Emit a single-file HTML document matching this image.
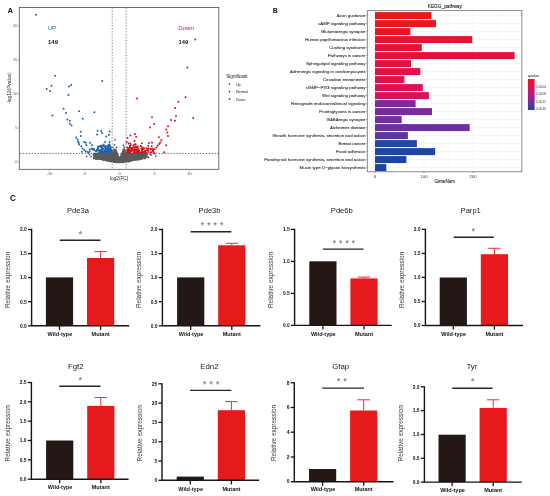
<!DOCTYPE html>
<html lang="en"><head><meta charset="utf-8"><title>Figure</title>
<style>html,body{margin:0;padding:0;background:#fff;}svg{display:block;}text{font-family:"Liberation Sans", Arial, sans-serif;}</style></head><body>
<svg width="550" height="496" viewBox="0 0 550 496">
<rect x="0" y="0" width="550" height="496" fill="#ffffff"/>
<g id="panelA">
<text x="7.6" y="12.8" font-size="7.6" font-weight="bold" fill="#111">A</text>
<rect x="19.3" y="7.5" width="199.5" height="161.8" fill="#fff" stroke="#4d4d4d" stroke-width="0.8"/>
<line x1="19.3" y1="153.4" x2="218.8" y2="153.4" stroke="#3a3a3a" stroke-width="0.8" stroke-dasharray="1.35,1.6" stroke-dashoffset="-0.6"/>
<line x1="112.2" y1="7.5" x2="112.2" y2="169.3" stroke="#555" stroke-width="0.7" stroke-dasharray="1.35,1.6"/>
<line x1="126.1" y1="7.5" x2="126.1" y2="169.3" stroke="#555" stroke-width="0.7" stroke-dasharray="1.35,1.6"/>
<line x1="18" y1="162.0" x2="19.3" y2="162.0" stroke="#555" stroke-width="0.5"/>
<text x="17.3" y="163.4" font-size="3.8" fill="#4d4d4d" text-anchor="end">0</text>
<line x1="18" y1="128.0" x2="19.3" y2="128.0" stroke="#555" stroke-width="0.5"/>
<text x="17.3" y="129.4" font-size="3.8" fill="#4d4d4d" text-anchor="end">5</text>
<line x1="18" y1="94.0" x2="19.3" y2="94.0" stroke="#555" stroke-width="0.5"/>
<text x="17.3" y="95.4" font-size="3.8" fill="#4d4d4d" text-anchor="end">10</text>
<line x1="18" y1="60.0" x2="19.3" y2="60.0" stroke="#555" stroke-width="0.5"/>
<text x="17.3" y="61.4" font-size="3.8" fill="#4d4d4d" text-anchor="end">15</text>
<line x1="18" y1="26.0" x2="19.3" y2="26.0" stroke="#555" stroke-width="0.5"/>
<text x="17.3" y="27.4" font-size="3.8" fill="#4d4d4d" text-anchor="end">20</text>
<line x1="49.6" y1="169.3" x2="49.6" y2="170.6" stroke="#555" stroke-width="0.5"/>
<text x="49.6" y="174.7" font-size="3.8" fill="#4d4d4d" text-anchor="middle">-10</text>
<line x1="84.6" y1="169.3" x2="84.6" y2="170.6" stroke="#555" stroke-width="0.5"/>
<text x="84.6" y="174.7" font-size="3.8" fill="#4d4d4d" text-anchor="middle">-5</text>
<line x1="119.6" y1="169.3" x2="119.6" y2="170.6" stroke="#555" stroke-width="0.5"/>
<text x="119.6" y="174.7" font-size="3.8" fill="#4d4d4d" text-anchor="middle">0</text>
<line x1="154.6" y1="169.3" x2="154.6" y2="170.6" stroke="#555" stroke-width="0.5"/>
<text x="154.6" y="174.7" font-size="3.8" fill="#4d4d4d" text-anchor="middle">5</text>
<line x1="189.6" y1="169.3" x2="189.6" y2="170.6" stroke="#555" stroke-width="0.5"/>
<text x="189.6" y="174.7" font-size="3.8" fill="#4d4d4d" text-anchor="middle">10</text>
<text x="119.2" y="179.6" font-size="4.7" fill="#222" text-anchor="middle">log2(FC)</text>
<text transform="translate(10.6,88.2) rotate(-90)" font-size="4.85" fill="#222" text-anchor="middle">-log10(Pvalue)</text>
<path d="M93.5 153.1 L112.0 153.1 L112.6 150.6 L113.6 149.2 L115.0 148.8 L116.4 149.8 L117.3 152.6 L119.5 157.6 L121.8 152.6 L122.6 149.8 L123.6 148.4 L124.8 148.8 L125.6 150.6 L126.2 153.1 L147.8 153.1 L147.8 154.6 L146.4 156.6 L142.6 158.4 L136.0 160.0 L129.5 161.4 L124.0 162.2 L119.5 162.5 L115.0 162.2 L108.0 161.3 L101.0 159.6 L96.0 158.2 L93.4 156.4 L93.0 154.5 Z" fill="#5a5a5a" stroke="#5a5a5a" stroke-width="0.6" stroke-linejoin="round"/>
<g fill="#5a5a5a">
<circle cx="114.9" cy="139.8" r="0.90"/><circle cx="114.5" cy="144.9" r="0.90"/><circle cx="116.4" cy="147.5" r="0.90"/><circle cx="113.1" cy="147.6" r="0.90"/><circle cx="123.4" cy="145.3" r="0.90"/><circle cx="124.4" cy="147.3" r="0.90"/><circle cx="86.5" cy="156.4" r="0.90"/><circle cx="91.2" cy="156.6" r="0.90"/><circle cx="93.6" cy="158.6" r="0.90"/><circle cx="154.7" cy="153.8" r="0.90"/><circle cx="155.8" cy="156.1" r="0.90"/><circle cx="148.6" cy="157.5" r="0.90"/><circle cx="89.5" cy="154.6" r="0.90"/><circle cx="151.0" cy="155.0" r="0.90"/><circle cx="150.2" cy="153.9" r="0.90"/><circle cx="96.0" cy="159.2" r="0.90"/><circle cx="144.5" cy="158.6" r="0.90"/><circle cx="111.5" cy="161.0" r="0.90"/><circle cx="129.2" cy="160.6" r="0.90"/><circle cx="122.9" cy="161.8" r="0.90"/><circle cx="97.1" cy="158.5" r="0.90"/><circle cx="96.0" cy="158.2" r="0.90"/><circle cx="97.8" cy="158.2" r="0.90"/><circle cx="116.9" cy="162.4" r="0.90"/><circle cx="100.7" cy="159.0" r="0.90"/><circle cx="127.9" cy="161.7" r="0.90"/><circle cx="125.2" cy="161.6" r="0.90"/><circle cx="146.7" cy="157.0" r="0.90"/><circle cx="140.4" cy="158.6" r="0.90"/><circle cx="101.8" cy="159.1" r="0.90"/><circle cx="110.7" cy="161.5" r="0.90"/><circle cx="103.8" cy="160.0" r="0.90"/><circle cx="128.5" cy="161.0" r="0.90"/><circle cx="123.6" cy="161.4" r="0.90"/><circle cx="97.2" cy="158.2" r="0.90"/><circle cx="130.7" cy="160.7" r="0.90"/><circle cx="111.0" cy="161.3" r="0.90"/><circle cx="118.5" cy="162.0" r="0.90"/><circle cx="136.9" cy="159.8" r="0.90"/><circle cx="107.2" cy="160.6" r="0.90"/><circle cx="122.4" cy="162.4" r="0.90"/><circle cx="133.4" cy="160.1" r="0.90"/><circle cx="146.9" cy="157.0" r="0.90"/><circle cx="116.6" cy="162.3" r="0.90"/><circle cx="102.2" cy="159.6" r="0.90"/><circle cx="96.1" cy="158.5" r="0.90"/><circle cx="135.3" cy="160.0" r="0.90"/><circle cx="141.3" cy="158.5" r="0.90"/><circle cx="131.5" cy="160.7" r="0.90"/><circle cx="125.3" cy="161.6" r="0.90"/><circle cx="139.4" cy="159.5" r="0.90"/><circle cx="119.6" cy="162.5" r="0.90"/><circle cx="97.3" cy="158.8" r="0.90"/><circle cx="128.9" cy="161.6" r="0.90"/><circle cx="138.4" cy="159.0" r="0.90"/><circle cx="114.8" cy="162.0" r="0.90"/><circle cx="95.2" cy="158.1" r="0.90"/><circle cx="103.1" cy="159.4" r="0.90"/><circle cx="97.2" cy="158.8" r="0.90"/><circle cx="101.0" cy="159.1" r="0.90"/><circle cx="115.1" cy="162.2" r="0.90"/><circle cx="98.4" cy="158.7" r="0.90"/><circle cx="123.7" cy="162.3" r="0.90"/><circle cx="138.2" cy="159.7" r="0.90"/><circle cx="109.0" cy="160.8" r="0.90"/><circle cx="113.4" cy="162.0" r="0.90"/><circle cx="145.7" cy="157.3" r="0.90"/><circle cx="103.5" cy="159.6" r="0.90"/><circle cx="106.6" cy="160.4" r="0.90"/><circle cx="125.8" cy="161.3" r="0.90"/><circle cx="94.2" cy="157.8" r="0.90"/><circle cx="113.9" cy="161.7" r="0.90"/><circle cx="145.5" cy="157.9" r="0.90"/><circle cx="121.8" cy="162.2" r="0.90"/><circle cx="130.5" cy="160.3" r="0.90"/><circle cx="142.6" cy="158.6" r="0.90"/><circle cx="141.2" cy="159.0" r="0.90"/><circle cx="115.2" cy="161.8" r="0.90"/><circle cx="99.6" cy="159.2" r="0.90"/><circle cx="97.4" cy="158.1" r="0.90"/><circle cx="105.3" cy="159.9" r="0.90"/><circle cx="112.4" cy="161.0" r="0.90"/><circle cx="94.0" cy="157.5" r="0.90"/><circle cx="99.5" cy="158.9" r="0.90"/><circle cx="95.4" cy="158.5" r="0.90"/><circle cx="127.2" cy="161.0" r="0.90"/><circle cx="107.6" cy="160.5" r="0.90"/>
</g>
<g fill="#1f62b0">
<circle cx="36.0" cy="14.7" r="1.00"/><circle cx="55.1" cy="75.8" r="1.00"/><circle cx="51.5" cy="85.8" r="1.00"/><circle cx="46.7" cy="89.1" r="1.00"/><circle cx="50.0" cy="90.9" r="1.00"/><circle cx="69.1" cy="86.4" r="1.00"/><circle cx="71.1" cy="84.9" r="1.00"/><circle cx="102.2" cy="80.9" r="1.00"/><circle cx="68.4" cy="94.9" r="1.00"/><circle cx="63.6" cy="108.7" r="1.00"/><circle cx="66.0" cy="113.1" r="1.00"/><circle cx="52.4" cy="115.5" r="1.00"/><circle cx="79.1" cy="111.3" r="1.00"/><circle cx="94.4" cy="112.2" r="1.00"/><circle cx="82.7" cy="118.7" r="1.00"/><circle cx="67.3" cy="119.5" r="1.00"/><circle cx="69.8" cy="120.7" r="1.00"/><circle cx="70.0" cy="123.8" r="1.00"/><circle cx="71.5" cy="125.6" r="1.00"/><circle cx="80.7" cy="131.8" r="1.00"/><circle cx="80.9" cy="136.0" r="1.00"/><circle cx="76.0" cy="137.5" r="1.00"/><circle cx="77.5" cy="139.5" r="1.00"/><circle cx="97.6" cy="130.7" r="1.00"/><circle cx="97.1" cy="134.4" r="1.00"/><circle cx="101.1" cy="131.1" r="1.00"/><circle cx="102.0" cy="133.1" r="1.00"/><circle cx="109.6" cy="131.6" r="1.00"/><circle cx="108.9" cy="134.9" r="1.00"/><circle cx="106.2" cy="136.5" r="1.00"/><circle cx="78.1" cy="141.4" r="1.00"/><circle cx="78.6" cy="143.0" r="1.00"/><circle cx="79.2" cy="144.4" r="1.00"/><circle cx="81.4" cy="146.3" r="1.00"/><circle cx="82.5" cy="148.5" r="1.00"/><circle cx="81.9" cy="151.7" r="1.00"/><circle cx="84.1" cy="150.1" r="1.00"/><circle cx="85.7" cy="151.2" r="1.00"/><circle cx="87.4" cy="152.0" r="1.00"/><circle cx="88.5" cy="152.6" r="1.00"/><circle cx="84.1" cy="141.9" r="1.00"/><circle cx="85.7" cy="142.7" r="1.00"/><circle cx="86.3" cy="145.0" r="1.00"/><circle cx="90.1" cy="142.7" r="1.00"/><circle cx="92.1" cy="145.2" r="1.00"/><circle cx="91.7" cy="148.5" r="1.00"/><circle cx="105.1" cy="142.1" r="1.00"/><circle cx="109.5" cy="142.1" r="1.00"/><circle cx="103.7" cy="144.6" r="1.00"/><circle cx="101.0" cy="145.7" r="1.00"/><circle cx="108.6" cy="151.3" r="1.00"/><circle cx="101.5" cy="151.8" r="1.00"/><circle cx="108.0" cy="151.8" r="1.00"/><circle cx="107.7" cy="150.3" r="1.00"/><circle cx="109.1" cy="150.8" r="1.00"/><circle cx="89.7" cy="151.4" r="1.00"/><circle cx="106.6" cy="152.3" r="1.00"/><circle cx="109.6" cy="152.5" r="1.00"/><circle cx="107.2" cy="149.1" r="1.00"/><circle cx="101.1" cy="152.5" r="1.00"/><circle cx="103.0" cy="149.6" r="1.00"/><circle cx="98.2" cy="146.6" r="1.00"/><circle cx="108.4" cy="151.5" r="1.00"/><circle cx="106.0" cy="148.8" r="1.00"/><circle cx="101.8" cy="147.5" r="1.00"/><circle cx="105.5" cy="147.3" r="1.00"/><circle cx="110.0" cy="148.4" r="1.00"/><circle cx="110.3" cy="152.0" r="1.00"/><circle cx="104.4" cy="152.2" r="1.00"/><circle cx="110.8" cy="147.2" r="1.00"/><circle cx="102.2" cy="151.6" r="1.00"/><circle cx="101.3" cy="149.4" r="1.00"/><circle cx="109.2" cy="152.2" r="1.00"/><circle cx="105.3" cy="151.9" r="1.00"/><circle cx="105.9" cy="147.2" r="1.00"/><circle cx="98.0" cy="150.5" r="1.00"/><circle cx="102.9" cy="149.0" r="1.00"/><circle cx="98.4" cy="148.1" r="1.00"/><circle cx="104.9" cy="147.4" r="1.00"/><circle cx="103.2" cy="152.7" r="1.00"/><circle cx="101.3" cy="149.9" r="1.00"/><circle cx="97.3" cy="149.5" r="1.00"/><circle cx="97.6" cy="149.1" r="1.00"/><circle cx="110.0" cy="145.6" r="1.00"/><circle cx="98.9" cy="152.4" r="1.00"/><circle cx="106.2" cy="151.3" r="1.00"/><circle cx="107.9" cy="147.3" r="1.00"/><circle cx="102.4" cy="148.6" r="1.00"/><circle cx="98.2" cy="147.5" r="1.00"/><circle cx="110.0" cy="150.0" r="1.00"/><circle cx="102.4" cy="152.3" r="1.00"/><circle cx="110.5" cy="147.6" r="1.00"/><circle cx="109.2" cy="144.4" r="1.00"/><circle cx="108.1" cy="146.0" r="1.00"/><circle cx="104.2" cy="151.6" r="1.00"/><circle cx="106.1" cy="152.7" r="1.00"/><circle cx="104.1" cy="152.4" r="1.00"/><circle cx="99.7" cy="152.5" r="1.00"/><circle cx="102.2" cy="147.3" r="1.00"/><circle cx="97.1" cy="150.3" r="1.00"/><circle cx="103.7" cy="145.9" r="1.00"/><circle cx="101.8" cy="145.6" r="1.00"/><circle cx="102.0" cy="148.3" r="1.00"/><circle cx="111.5" cy="152.0" r="1.00"/><circle cx="111.3" cy="150.6" r="1.00"/><circle cx="109.5" cy="146.3" r="1.00"/><circle cx="111.2" cy="150.8" r="1.00"/><circle cx="102.6" cy="152.0" r="1.00"/><circle cx="100.3" cy="150.7" r="1.00"/><circle cx="101.9" cy="146.8" r="1.00"/><circle cx="106.2" cy="149.1" r="1.00"/><circle cx="104.5" cy="152.7" r="1.00"/><circle cx="104.4" cy="152.1" r="1.00"/><circle cx="101.0" cy="147.1" r="1.00"/><circle cx="105.8" cy="149.4" r="1.00"/><circle cx="106.5" cy="149.5" r="1.00"/><circle cx="104.7" cy="147.2" r="1.00"/><circle cx="110.5" cy="148.5" r="1.00"/><circle cx="108.6" cy="150.4" r="1.00"/><circle cx="94.1" cy="150.1" r="1.00"/><circle cx="109.1" cy="144.7" r="1.00"/><circle cx="103.7" cy="151.7" r="1.00"/><circle cx="107.5" cy="149.9" r="1.00"/><circle cx="104.9" cy="150.3" r="1.00"/><circle cx="108.7" cy="147.9" r="1.00"/><circle cx="105.7" cy="151.1" r="1.00"/><circle cx="92.8" cy="149.5" r="1.00"/><circle cx="99.8" cy="151.6" r="1.00"/><circle cx="107.4" cy="145.7" r="1.00"/><circle cx="95.8" cy="151.0" r="1.00"/><circle cx="89.8" cy="149.4" r="1.00"/><circle cx="105.4" cy="145.9" r="1.00"/><circle cx="110.5" cy="150.7" r="1.00"/><circle cx="103.5" cy="149.4" r="1.00"/><circle cx="110.8" cy="151.6" r="1.00"/><circle cx="104.2" cy="152.6" r="1.00"/><circle cx="109.8" cy="149.0" r="1.00"/><circle cx="108.4" cy="149.5" r="1.00"/><circle cx="110.7" cy="149.6" r="1.00"/><circle cx="101.3" cy="150.4" r="1.00"/><circle cx="106.0" cy="151.0" r="1.00"/><circle cx="96.4" cy="151.2" r="1.00"/><circle cx="111.0" cy="150.8" r="1.00"/><circle cx="94.1" cy="149.0" r="1.00"/><circle cx="108.7" cy="150.2" r="1.00"/><circle cx="99.7" cy="146.2" r="1.00"/><circle cx="99.0" cy="150.3" r="1.00"/><circle cx="109.0" cy="152.0" r="1.00"/><circle cx="108.0" cy="149.2" r="1.00"/><circle cx="92.5" cy="149.0" r="1.00"/>
</g>
<g fill="#d3151c">
<circle cx="195.2" cy="39.5" r="1.00"/><circle cx="187.3" cy="67.5" r="1.00"/><circle cx="137.1" cy="98.4" r="1.00"/><circle cx="185.5" cy="97.2" r="1.00"/><circle cx="178.4" cy="101.8" r="1.00"/><circle cx="175.0" cy="107.9" r="1.00"/><circle cx="176.0" cy="115.9" r="1.00"/><circle cx="152.0" cy="117.3" r="1.00"/><circle cx="193.2" cy="118.1" r="1.00"/><circle cx="171.0" cy="120.0" r="1.00"/><circle cx="175.0" cy="120.8" r="1.00"/><circle cx="154.2" cy="124.0" r="1.00"/><circle cx="168.0" cy="126.2" r="1.00"/><circle cx="150.0" cy="127.4" r="1.00"/><circle cx="166.3" cy="129.4" r="1.00"/><circle cx="167.3" cy="132.6" r="1.00"/><circle cx="168.0" cy="135.9" r="1.00"/><circle cx="134.9" cy="133.9" r="1.00"/><circle cx="130.4" cy="135.6" r="1.00"/><circle cx="136.2" cy="136.8" r="1.00"/><circle cx="127.5" cy="137.9" r="1.00"/><circle cx="126.6" cy="142.1" r="1.00"/><circle cx="134.5" cy="141.0" r="1.00"/><circle cx="141.9" cy="143.3" r="1.00"/><circle cx="148.9" cy="143.0" r="1.00"/><circle cx="152.0" cy="142.5" r="1.00"/><circle cx="148.2" cy="145.7" r="1.00"/><circle cx="158.9" cy="137.3" r="1.00"/><circle cx="161.3" cy="140.3" r="1.00"/><circle cx="160.2" cy="142.5" r="1.00"/><circle cx="159.1" cy="144.1" r="1.00"/><circle cx="157.7" cy="145.7" r="1.00"/><circle cx="156.4" cy="147.4" r="1.00"/><circle cx="154.7" cy="149.2" r="1.00"/><circle cx="153.1" cy="151.0" r="1.00"/><circle cx="151.5" cy="152.3" r="1.00"/><circle cx="166.0" cy="145.2" r="1.00"/><circle cx="164.0" cy="152.3" r="1.00"/><circle cx="143.9" cy="147.9" r="1.00"/><circle cx="151.0" cy="149.1" r="1.00"/><circle cx="152.7" cy="149.8" r="1.00"/><circle cx="139.4" cy="151.8" r="1.00"/><circle cx="137.7" cy="152.5" r="1.00"/><circle cx="134.5" cy="150.1" r="1.00"/><circle cx="128.9" cy="151.0" r="1.00"/><circle cx="132.5" cy="150.4" r="1.00"/><circle cx="130.1" cy="151.5" r="1.00"/><circle cx="138.2" cy="152.5" r="1.00"/><circle cx="138.8" cy="150.4" r="1.00"/><circle cx="127.2" cy="152.3" r="1.00"/><circle cx="129.4" cy="152.7" r="1.00"/><circle cx="129.7" cy="152.2" r="1.00"/><circle cx="144.8" cy="151.2" r="1.00"/><circle cx="142.0" cy="151.1" r="1.00"/><circle cx="129.8" cy="151.1" r="1.00"/><circle cx="140.7" cy="145.9" r="1.00"/><circle cx="128.0" cy="149.4" r="1.00"/><circle cx="137.6" cy="148.8" r="1.00"/><circle cx="141.8" cy="147.0" r="1.00"/><circle cx="132.5" cy="147.8" r="1.00"/><circle cx="137.9" cy="150.8" r="1.00"/><circle cx="134.2" cy="152.1" r="1.00"/><circle cx="148.0" cy="150.2" r="1.00"/><circle cx="127.5" cy="150.6" r="1.00"/><circle cx="150.4" cy="149.2" r="1.00"/><circle cx="141.5" cy="148.8" r="1.00"/><circle cx="129.3" cy="150.1" r="1.00"/><circle cx="131.4" cy="148.9" r="1.00"/><circle cx="135.5" cy="149.4" r="1.00"/><circle cx="130.2" cy="143.5" r="1.00"/><circle cx="144.6" cy="151.9" r="1.00"/><circle cx="128.5" cy="143.4" r="1.00"/><circle cx="132.0" cy="149.6" r="1.00"/><circle cx="140.9" cy="152.7" r="1.00"/><circle cx="143.5" cy="152.0" r="1.00"/><circle cx="132.2" cy="148.6" r="1.00"/><circle cx="138.2" cy="152.6" r="1.00"/><circle cx="139.2" cy="150.8" r="1.00"/><circle cx="130.1" cy="152.5" r="1.00"/><circle cx="130.6" cy="150.2" r="1.00"/><circle cx="142.0" cy="150.4" r="1.00"/><circle cx="127.3" cy="147.4" r="1.00"/><circle cx="133.3" cy="145.5" r="1.00"/><circle cx="136.8" cy="150.7" r="1.00"/><circle cx="135.1" cy="152.5" r="1.00"/><circle cx="130.4" cy="147.6" r="1.00"/><circle cx="152.8" cy="150.8" r="1.00"/><circle cx="142.5" cy="149.5" r="1.00"/><circle cx="129.8" cy="146.1" r="1.00"/><circle cx="138.1" cy="149.3" r="1.00"/><circle cx="153.8" cy="152.5" r="1.00"/><circle cx="136.0" cy="146.4" r="1.00"/><circle cx="152.8" cy="148.9" r="1.00"/><circle cx="136.0" cy="147.6" r="1.00"/><circle cx="127.6" cy="151.8" r="1.00"/><circle cx="136.1" cy="150.2" r="1.00"/><circle cx="148.2" cy="148.5" r="1.00"/><circle cx="145.6" cy="150.9" r="1.00"/><circle cx="142.0" cy="148.8" r="1.00"/><circle cx="128.3" cy="152.7" r="1.00"/><circle cx="134.1" cy="147.0" r="1.00"/><circle cx="144.5" cy="152.6" r="1.00"/><circle cx="130.0" cy="151.6" r="1.00"/><circle cx="128.1" cy="150.0" r="1.00"/><circle cx="137.0" cy="151.4" r="1.00"/><circle cx="128.4" cy="150.3" r="1.00"/><circle cx="140.9" cy="152.6" r="1.00"/><circle cx="148.3" cy="152.0" r="1.00"/><circle cx="129.3" cy="147.7" r="1.00"/><circle cx="130.7" cy="151.6" r="1.00"/><circle cx="133.6" cy="150.5" r="1.00"/><circle cx="127.7" cy="149.6" r="1.00"/><circle cx="129.2" cy="152.5" r="1.00"/><circle cx="137.5" cy="151.6" r="1.00"/><circle cx="137.3" cy="147.8" r="1.00"/><circle cx="132.4" cy="150.0" r="1.00"/><circle cx="142.8" cy="152.3" r="1.00"/><circle cx="134.1" cy="152.3" r="1.00"/><circle cx="134.5" cy="151.2" r="1.00"/><circle cx="131.7" cy="148.7" r="1.00"/><circle cx="128.9" cy="148.7" r="1.00"/><circle cx="137.7" cy="151.8" r="1.00"/><circle cx="135.6" cy="144.3" r="1.00"/><circle cx="131.7" cy="148.1" r="1.00"/><circle cx="137.9" cy="149.3" r="1.00"/><circle cx="134.3" cy="152.1" r="1.00"/><circle cx="134.3" cy="148.8" r="1.00"/><circle cx="143.7" cy="149.0" r="1.00"/><circle cx="130.7" cy="145.1" r="1.00"/><circle cx="130.3" cy="152.6" r="1.00"/><circle cx="143.5" cy="152.6" r="1.00"/><circle cx="138.5" cy="151.8" r="1.00"/><circle cx="135.3" cy="150.1" r="1.00"/><circle cx="138.0" cy="146.4" r="1.00"/><circle cx="150.5" cy="152.6" r="1.00"/><circle cx="131.0" cy="151.2" r="1.00"/><circle cx="147.0" cy="150.2" r="1.00"/><circle cx="136.6" cy="151.0" r="1.00"/><circle cx="136.9" cy="150.1" r="1.00"/><circle cx="145.9" cy="152.7" r="1.00"/><circle cx="136.7" cy="149.8" r="1.00"/><circle cx="127.9" cy="151.6" r="1.00"/><circle cx="148.5" cy="148.6" r="1.00"/><circle cx="134.5" cy="144.5" r="1.00"/><circle cx="127.2" cy="149.9" r="1.00"/><circle cx="136.3" cy="152.5" r="1.00"/><circle cx="151.7" cy="146.3" r="1.00"/><circle cx="146.3" cy="148.3" r="1.00"/>
</g>
<text x="47.7" y="29.8" font-size="6.1" fill="#2f74bc">UP</text>
<text x="48.1" y="43.9" font-size="5.9" font-weight="bold" fill="#111">149</text>
<text x="178.2" y="29.8" font-size="6.1" fill="#cf2228">Down</text>
<text x="178.6" y="43.9" font-size="5.7" font-weight="bold" fill="#111">149</text>
<text x="226.2" y="77.9" font-size="4.65" fill="#111">Significant</text>
<circle cx="229.5" cy="84.1" r="0.9" fill="#1f62b0"/>
<text x="235.9" y="85.8" font-size="3.75" fill="#222">Up</text>
<circle cx="229.5" cy="91.6" r="0.9" fill="#444"/>
<text x="235.9" y="93.3" font-size="3.75" fill="#222">Normal</text>
<circle cx="229.5" cy="99.0" r="0.9" fill="#d3151c"/>
<text x="235.9" y="100.7" font-size="3.75" fill="#222">Down</text>
</g>
<g id="panelB">
<text x="272.8" y="12.7" font-size="6.9" font-weight="bold" fill="#111">B</text>
<text x="444.8" y="8.2" font-size="4.75" fill="#222" stroke="#222" stroke-width="0.1" text-anchor="middle">KEGG_pathway</text>
<rect x="367.4" y="10.5" width="154.4" height="161.2" fill="#fff"/>
<line x1="375.0" y1="10.5" x2="375.0" y2="171.7" stroke="#ededed" stroke-width="0.6"/>
<line x1="399.5" y1="10.5" x2="399.5" y2="171.7" stroke="#ededed" stroke-width="0.4"/>
<line x1="424.0" y1="10.5" x2="424.0" y2="171.7" stroke="#ededed" stroke-width="0.6"/>
<line x1="448.5" y1="10.5" x2="448.5" y2="171.7" stroke="#ededed" stroke-width="0.4"/>
<line x1="473.0" y1="10.5" x2="473.0" y2="171.7" stroke="#ededed" stroke-width="0.6"/>
<line x1="497.5" y1="10.5" x2="497.5" y2="171.7" stroke="#ededed" stroke-width="0.4"/>
<line x1="367.4" y1="15.6" x2="521.8" y2="15.6" stroke="#ededed" stroke-width="0.5"/>
<line x1="367.4" y1="23.6" x2="521.8" y2="23.6" stroke="#ededed" stroke-width="0.5"/>
<line x1="367.4" y1="31.6" x2="521.8" y2="31.6" stroke="#ededed" stroke-width="0.5"/>
<line x1="367.4" y1="39.6" x2="521.8" y2="39.6" stroke="#ededed" stroke-width="0.5"/>
<line x1="367.4" y1="47.6" x2="521.8" y2="47.6" stroke="#ededed" stroke-width="0.5"/>
<line x1="367.4" y1="55.6" x2="521.8" y2="55.6" stroke="#ededed" stroke-width="0.5"/>
<line x1="367.4" y1="63.6" x2="521.8" y2="63.6" stroke="#ededed" stroke-width="0.5"/>
<line x1="367.4" y1="71.6" x2="521.8" y2="71.6" stroke="#ededed" stroke-width="0.5"/>
<line x1="367.4" y1="79.6" x2="521.8" y2="79.6" stroke="#ededed" stroke-width="0.5"/>
<line x1="367.4" y1="87.6" x2="521.8" y2="87.6" stroke="#ededed" stroke-width="0.5"/>
<line x1="367.4" y1="95.6" x2="521.8" y2="95.6" stroke="#ededed" stroke-width="0.5"/>
<line x1="367.4" y1="103.6" x2="521.8" y2="103.6" stroke="#ededed" stroke-width="0.5"/>
<line x1="367.4" y1="111.6" x2="521.8" y2="111.6" stroke="#ededed" stroke-width="0.5"/>
<line x1="367.4" y1="119.6" x2="521.8" y2="119.6" stroke="#ededed" stroke-width="0.5"/>
<line x1="367.4" y1="127.6" x2="521.8" y2="127.6" stroke="#ededed" stroke-width="0.5"/>
<line x1="367.4" y1="135.6" x2="521.8" y2="135.6" stroke="#ededed" stroke-width="0.5"/>
<line x1="367.4" y1="143.6" x2="521.8" y2="143.6" stroke="#ededed" stroke-width="0.5"/>
<line x1="367.4" y1="151.6" x2="521.8" y2="151.6" stroke="#ededed" stroke-width="0.5"/>
<line x1="367.4" y1="159.6" x2="521.8" y2="159.6" stroke="#ededed" stroke-width="0.5"/>
<line x1="367.4" y1="167.6" x2="521.8" y2="167.6" stroke="#ededed" stroke-width="0.5"/>
<rect x="375.0" y="12.1" width="56.4" height="7.0" fill="#e8191d"/>
<line x1="366.1" y1="15.6" x2="367.4" y2="15.6" stroke="#444" stroke-width="0.5"/>
<text x="365.4" y="17.2" font-size="4.35" fill="#333" stroke="#333" stroke-width="0.1" text-anchor="end">Axon guidance</text>
<rect x="375.0" y="20.1" width="61.0" height="7.0" fill="#e71820"/>
<line x1="366.1" y1="23.6" x2="367.4" y2="23.6" stroke="#444" stroke-width="0.5"/>
<text x="365.4" y="25.2" font-size="4.35" fill="#333" stroke="#333" stroke-width="0.1" text-anchor="end">cAMP signaling pathway</text>
<rect x="375.0" y="28.1" width="35.4" height="7.0" fill="#e61723"/>
<line x1="366.1" y1="31.6" x2="367.4" y2="31.6" stroke="#444" stroke-width="0.5"/>
<text x="365.4" y="33.2" font-size="4.35" fill="#333" stroke="#333" stroke-width="0.1" text-anchor="end">Glutamatergic synapse</text>
<rect x="375.0" y="36.1" width="97.2" height="7.0" fill="#e31533"/>
<line x1="366.1" y1="39.6" x2="367.4" y2="39.6" stroke="#444" stroke-width="0.5"/>
<text x="365.4" y="41.2" font-size="4.35" fill="#333" stroke="#333" stroke-width="0.1" text-anchor="end">Human papillomavirus infection</text>
<rect x="375.0" y="44.1" width="46.8" height="7.0" fill="#e21437"/>
<line x1="366.1" y1="47.6" x2="367.4" y2="47.6" stroke="#444" stroke-width="0.5"/>
<text x="365.4" y="49.2" font-size="4.35" fill="#333" stroke="#333" stroke-width="0.1" text-anchor="end">Cushing syndrome</text>
<rect x="375.0" y="52.1" width="139.6" height="7.0" fill="#e1133b"/>
<line x1="366.1" y1="55.6" x2="367.4" y2="55.6" stroke="#444" stroke-width="0.5"/>
<text x="365.4" y="57.2" font-size="4.35" fill="#333" stroke="#333" stroke-width="0.1" text-anchor="end">Pathways in cancer</text>
<rect x="375.0" y="60.1" width="36.0" height="7.0" fill="#df1342"/>
<line x1="366.1" y1="63.6" x2="367.4" y2="63.6" stroke="#444" stroke-width="0.5"/>
<text x="365.4" y="65.2" font-size="4.35" fill="#333" stroke="#333" stroke-width="0.1" text-anchor="end">Sphingolipid signaling pathway</text>
<rect x="375.0" y="68.1" width="45.3" height="7.0" fill="#de1347"/>
<line x1="366.1" y1="71.6" x2="367.4" y2="71.6" stroke="#444" stroke-width="0.5"/>
<text x="365.4" y="73.2" font-size="4.35" fill="#333" stroke="#333" stroke-width="0.1" text-anchor="end">Adrenergic signaling in cardiomyocytes</text>
<rect x="375.0" y="76.1" width="29.5" height="7.0" fill="#dc134d"/>
<line x1="366.1" y1="79.6" x2="367.4" y2="79.6" stroke="#444" stroke-width="0.5"/>
<text x="365.4" y="81.2" font-size="4.35" fill="#333" stroke="#333" stroke-width="0.1" text-anchor="end">Circadian entrainment</text>
<rect x="375.0" y="84.1" width="47.8" height="7.0" fill="#da1353"/>
<line x1="366.1" y1="87.6" x2="367.4" y2="87.6" stroke="#444" stroke-width="0.5"/>
<text x="365.4" y="89.2" font-size="4.35" fill="#333" stroke="#333" stroke-width="0.1" text-anchor="end">cGMP−PKG signaling pathway</text>
<rect x="375.0" y="92.1" width="53.9" height="7.0" fill="#d8135a"/>
<line x1="366.1" y1="95.6" x2="367.4" y2="95.6" stroke="#444" stroke-width="0.5"/>
<text x="365.4" y="97.2" font-size="4.35" fill="#333" stroke="#333" stroke-width="0.1" text-anchor="end">Wnt signaling pathway</text>
<rect x="375.0" y="100.1" width="40.6" height="7.0" fill="#7e2a98"/>
<line x1="366.1" y1="103.6" x2="367.4" y2="103.6" stroke="#444" stroke-width="0.5"/>
<text x="365.4" y="105.2" font-size="4.35" fill="#333" stroke="#333" stroke-width="0.1" text-anchor="end">Retrograde endocannabinoid signaling</text>
<rect x="375.0" y="108.1" width="57.0" height="7.0" fill="#782c9b"/>
<line x1="366.1" y1="111.6" x2="367.4" y2="111.6" stroke="#444" stroke-width="0.5"/>
<text x="365.4" y="113.2" font-size="4.35" fill="#333" stroke="#333" stroke-width="0.1" text-anchor="end">Proteoglycans in cancer</text>
<rect x="375.0" y="116.1" width="26.7" height="7.0" fill="#702f9d"/>
<line x1="366.1" y1="119.6" x2="367.4" y2="119.6" stroke="#444" stroke-width="0.5"/>
<text x="365.4" y="121.2" font-size="4.35" fill="#333" stroke="#333" stroke-width="0.1" text-anchor="end">GABAergic synapse</text>
<rect x="375.0" y="124.1" width="94.7" height="7.0" fill="#6a319e"/>
<line x1="366.1" y1="127.6" x2="367.4" y2="127.6" stroke="#444" stroke-width="0.5"/>
<text x="365.4" y="129.2" font-size="4.35" fill="#333" stroke="#333" stroke-width="0.1" text-anchor="end">Alzheimer disease</text>
<rect x="375.0" y="132.1" width="32.9" height="7.0" fill="#5a379f"/>
<line x1="366.1" y1="135.6" x2="367.4" y2="135.6" stroke="#444" stroke-width="0.5"/>
<text x="365.4" y="137.2" font-size="4.35" fill="#333" stroke="#333" stroke-width="0.1" text-anchor="end">Growth hormone synthesis, secretion and action</text>
<rect x="375.0" y="140.1" width="41.9" height="7.0" fill="#2046a6"/>
<line x1="366.1" y1="143.6" x2="367.4" y2="143.6" stroke="#444" stroke-width="0.5"/>
<text x="365.4" y="145.2" font-size="4.35" fill="#333" stroke="#333" stroke-width="0.1" text-anchor="end">Breast cancer</text>
<rect x="375.0" y="148.1" width="60.1" height="7.0" fill="#1f45a4"/>
<line x1="366.1" y1="151.6" x2="367.4" y2="151.6" stroke="#444" stroke-width="0.5"/>
<text x="365.4" y="153.2" font-size="4.35" fill="#333" stroke="#333" stroke-width="0.1" text-anchor="end">Focal adhesion</text>
<rect x="375.0" y="156.1" width="31.4" height="7.0" fill="#1e44a2"/>
<line x1="366.1" y1="159.6" x2="367.4" y2="159.6" stroke="#444" stroke-width="0.5"/>
<text x="365.4" y="161.2" font-size="4.35" fill="#333" stroke="#333" stroke-width="0.1" text-anchor="end">Parathyroid hormone synthesis, secretion and action</text>
<rect x="375.0" y="164.1" width="11.3" height="7.0" fill="#1d43a0"/>
<line x1="366.1" y1="167.6" x2="367.4" y2="167.6" stroke="#444" stroke-width="0.5"/>
<text x="365.4" y="169.2" font-size="4.35" fill="#333" stroke="#333" stroke-width="0.1" text-anchor="end">Mucin type O−glycan biosynthesis</text>
<rect x="367.4" y="10.5" width="154.4" height="161.2" fill="none" stroke="#949494" stroke-width="1.1"/>
<line x1="375.0" y1="171.7" x2="375.0" y2="173.0" stroke="#444" stroke-width="0.5"/>
<text x="375.0" y="177.5" font-size="4.4" fill="#333" text-anchor="middle">0</text>
<line x1="424.0" y1="171.7" x2="424.0" y2="173.0" stroke="#444" stroke-width="0.5"/>
<text x="424.0" y="177.5" font-size="4.4" fill="#333" text-anchor="middle">100</text>
<line x1="473.0" y1="171.7" x2="473.0" y2="173.0" stroke="#444" stroke-width="0.5"/>
<text x="473.0" y="177.5" font-size="4.4" fill="#333" text-anchor="middle">200</text>
<text x="444.8" y="182.7" font-size="4.5" fill="#222" stroke="#222" stroke-width="0.1" text-anchor="middle">GeneNum</text>
<defs><linearGradient id="qv" x1="0" y1="0" x2="0" y2="1"><stop offset="0" stop-color="#ea151a"/><stop offset="0.25" stop-color="#dc1350"/><stop offset="0.5" stop-color="#b81a80"/><stop offset="0.75" stop-color="#75309c"/><stop offset="1" stop-color="#1f44a3"/></linearGradient></defs>
<text x="527.8" y="76.5" font-size="3.9" fill="#222">qvalue</text>
<rect x="527.9" y="79.0" width="6.7" height="31.0" fill="url(#qv)"/>
<text x="536.2" y="87.8" font-size="3.2" fill="#333">0.0004</text>
<text x="536.2" y="95.4" font-size="3.2" fill="#333">0.0008</text>
<text x="536.2" y="102.9" font-size="3.2" fill="#333">0.0012</text>
<text x="536.2" y="110.4" font-size="3.2" fill="#333">0.0016</text>
</g>
<g id="panelC">
<text x="9.9" y="201.4" font-size="8.2" font-weight="bold" fill="#111">C</text>
<g>
<text transform="translate(9.8,280.0) rotate(-90)" font-size="6.45" fill="#333" text-anchor="middle">Relative expression</text>
<text x="78.0" y="212.9" font-size="7.6" fill="#222" text-anchor="middle">Pde3a</text>
<rect x="45.9" y="277.4" width="27.2" height="48.4" fill="#231815"/>
<rect x="87.0" y="258.0" width="27.2" height="67.8" fill="#e6191d"/>
<path d="M100.6 258.0 V251.6 M94.4 251.6 H106.8" fill="none" stroke="#e6191d" stroke-width="0.9"/>
<path d="M31.6 228.8 V325.8 H129.2" fill="none" stroke="#1a1311" stroke-width="1.4" stroke-linejoin="miter"/>
<line x1="28.0" y1="325.8" x2="31.6" y2="325.8" stroke="#1a1311" stroke-width="1.3"/>
<text x="26.8" y="327.6" font-size="4.9" font-weight="bold" fill="#111" text-anchor="end">0.0</text>
<line x1="28.0" y1="301.7" x2="31.6" y2="301.7" stroke="#1a1311" stroke-width="1.3"/>
<text x="26.8" y="303.5" font-size="4.9" font-weight="bold" fill="#111" text-anchor="end">0.5</text>
<line x1="28.0" y1="277.6" x2="31.6" y2="277.6" stroke="#1a1311" stroke-width="1.3"/>
<text x="26.8" y="279.4" font-size="4.9" font-weight="bold" fill="#111" text-anchor="end">1.0</text>
<line x1="28.0" y1="253.6" x2="31.6" y2="253.6" stroke="#1a1311" stroke-width="1.3"/>
<text x="26.8" y="255.3" font-size="4.9" font-weight="bold" fill="#111" text-anchor="end">1.5</text>
<line x1="28.0" y1="229.5" x2="31.6" y2="229.5" stroke="#1a1311" stroke-width="1.3"/>
<text x="26.8" y="231.2" font-size="4.9" font-weight="bold" fill="#111" text-anchor="end">2.0</text>
<line x1="59.5" y1="325.8" x2="59.5" y2="329.9" stroke="#1a1311" stroke-width="1.3"/>
<line x1="100.6" y1="325.8" x2="100.6" y2="329.9" stroke="#1a1311" stroke-width="1.3"/>
<text x="59.9" y="335.8" font-size="5.5" font-weight="bold" fill="#111" text-anchor="middle">Wild-type</text>
<text x="100.6" y="335.8" font-size="5.5" font-weight="bold" fill="#111" text-anchor="middle">Mutant</text>
<line x1="59.8" y1="240.2" x2="100.5" y2="240.2" stroke="#2a2220" stroke-width="1.4"/>
<text x="80.4" y="236.5" font-size="8.4" font-weight="bold" fill="#8a8a8a" text-anchor="middle">*</text>
</g>
<g>
<text transform="translate(140.6,280.0) rotate(-90)" font-size="6.45" fill="#333" text-anchor="middle">Relative expression</text>
<text x="209.6" y="212.9" font-size="7.6" fill="#222" text-anchor="middle">Pde3b</text>
<rect x="177.1" y="277.4" width="27.2" height="48.4" fill="#231815"/>
<rect x="218.2" y="245.3" width="27.2" height="80.5" fill="#e6191d"/>
<path d="M231.8 245.3 V243.3 M225.6 243.3 H238.0" fill="none" stroke="#e6191d" stroke-width="0.9"/>
<path d="M162.4 228.8 V325.8 H260.4" fill="none" stroke="#1a1311" stroke-width="1.4" stroke-linejoin="miter"/>
<line x1="158.8" y1="325.8" x2="162.4" y2="325.8" stroke="#1a1311" stroke-width="1.3"/>
<text x="157.6" y="327.6" font-size="4.9" font-weight="bold" fill="#111" text-anchor="end">0.0</text>
<line x1="158.8" y1="301.7" x2="162.4" y2="301.7" stroke="#1a1311" stroke-width="1.3"/>
<text x="157.6" y="303.5" font-size="4.9" font-weight="bold" fill="#111" text-anchor="end">0.5</text>
<line x1="158.8" y1="277.6" x2="162.4" y2="277.6" stroke="#1a1311" stroke-width="1.3"/>
<text x="157.6" y="279.4" font-size="4.9" font-weight="bold" fill="#111" text-anchor="end">1.0</text>
<line x1="158.8" y1="253.6" x2="162.4" y2="253.6" stroke="#1a1311" stroke-width="1.3"/>
<text x="157.6" y="255.3" font-size="4.9" font-weight="bold" fill="#111" text-anchor="end">1.5</text>
<line x1="158.8" y1="229.5" x2="162.4" y2="229.5" stroke="#1a1311" stroke-width="1.3"/>
<text x="157.6" y="231.2" font-size="4.9" font-weight="bold" fill="#111" text-anchor="end">2.0</text>
<line x1="190.7" y1="325.8" x2="190.7" y2="329.9" stroke="#1a1311" stroke-width="1.3"/>
<line x1="231.8" y1="325.8" x2="231.8" y2="329.9" stroke="#1a1311" stroke-width="1.3"/>
<text x="191.1" y="335.8" font-size="5.5" font-weight="bold" fill="#111" text-anchor="middle">Wild-type</text>
<text x="231.8" y="335.8" font-size="5.5" font-weight="bold" fill="#111" text-anchor="middle">Mutant</text>
<line x1="190.6" y1="231.8" x2="231.3" y2="231.8" stroke="#2a2220" stroke-width="1.4"/>
<text x="202.5" y="228.4" font-size="8.4" font-weight="bold" fill="#8a8a8a" text-anchor="middle">*</text>
<text x="208.9" y="228.4" font-size="8.4" font-weight="bold" fill="#8a8a8a" text-anchor="middle">*</text>
<text x="215.2" y="228.4" font-size="8.4" font-weight="bold" fill="#8a8a8a" text-anchor="middle">*</text>
<text x="221.6" y="228.4" font-size="8.4" font-weight="bold" fill="#8a8a8a" text-anchor="middle">*</text>
</g>
<g>
<text transform="translate(272.8,280.0) rotate(-90)" font-size="6.45" fill="#333" text-anchor="middle">Relative expression</text>
<text x="341.8" y="212.9" font-size="7.6" fill="#222" text-anchor="middle">Pde6b</text>
<rect x="309.3" y="261.3" width="27.2" height="64.1" fill="#231815"/>
<rect x="350.4" y="278.4" width="27.2" height="47.0" fill="#e6191d"/>
<path d="M364.0 278.4 V277.1 M357.8 277.1 H370.2" fill="none" stroke="#e6191d" stroke-width="0.9"/>
<path d="M294.6 228.8 V325.4 H391.7" fill="none" stroke="#1a1311" stroke-width="1.4" stroke-linejoin="miter"/>
<line x1="291.0" y1="325.4" x2="294.6" y2="325.4" stroke="#1a1311" stroke-width="1.3"/>
<text x="289.8" y="327.1" font-size="4.9" font-weight="bold" fill="#111" text-anchor="end">0.0</text>
<line x1="291.0" y1="293.4" x2="294.6" y2="293.4" stroke="#1a1311" stroke-width="1.3"/>
<text x="289.8" y="295.1" font-size="4.9" font-weight="bold" fill="#111" text-anchor="end">0.5</text>
<line x1="291.0" y1="261.4" x2="294.6" y2="261.4" stroke="#1a1311" stroke-width="1.3"/>
<text x="289.8" y="263.1" font-size="4.9" font-weight="bold" fill="#111" text-anchor="end">1.0</text>
<line x1="291.0" y1="229.4" x2="294.6" y2="229.4" stroke="#1a1311" stroke-width="1.3"/>
<text x="289.8" y="231.2" font-size="4.9" font-weight="bold" fill="#111" text-anchor="end">1.5</text>
<line x1="322.9" y1="325.4" x2="322.9" y2="329.5" stroke="#1a1311" stroke-width="1.3"/>
<line x1="364.0" y1="325.4" x2="364.0" y2="329.5" stroke="#1a1311" stroke-width="1.3"/>
<text x="323.3" y="335.8" font-size="5.5" font-weight="bold" fill="#111" text-anchor="middle">Wild-type</text>
<text x="364.0" y="335.8" font-size="5.5" font-weight="bold" fill="#111" text-anchor="middle">Mutant</text>
<line x1="322.9" y1="249.1" x2="363.6" y2="249.1" stroke="#2a2220" stroke-width="1.4"/>
<text x="334.4" y="245.7" font-size="8.4" font-weight="bold" fill="#8a8a8a" text-anchor="middle">*</text>
<text x="340.7" y="245.7" font-size="8.4" font-weight="bold" fill="#8a8a8a" text-anchor="middle">*</text>
<text x="347.1" y="245.7" font-size="8.4" font-weight="bold" fill="#8a8a8a" text-anchor="middle">*</text>
<text x="353.5" y="245.7" font-size="8.4" font-weight="bold" fill="#8a8a8a" text-anchor="middle">*</text>
</g>
<g>
<text transform="translate(404.2,280.0) rotate(-90)" font-size="6.45" fill="#333" text-anchor="middle">Relative expression</text>
<text x="470.7" y="212.9" font-size="7.6" fill="#222" text-anchor="middle">Parp1</text>
<rect x="439.7" y="277.5" width="27.2" height="48.0" fill="#231815"/>
<rect x="480.8" y="254.2" width="27.2" height="71.3" fill="#e6191d"/>
<path d="M494.4 254.2 V248.3 M488.2 248.3 H500.6" fill="none" stroke="#e6191d" stroke-width="0.9"/>
<path d="M425.4 228.8 V325.5 H523.0" fill="none" stroke="#1a1311" stroke-width="1.4" stroke-linejoin="miter"/>
<line x1="421.8" y1="325.5" x2="425.4" y2="325.5" stroke="#1a1311" stroke-width="1.3"/>
<text x="420.6" y="327.2" font-size="4.9" font-weight="bold" fill="#111" text-anchor="end">0.0</text>
<line x1="421.8" y1="301.5" x2="425.4" y2="301.5" stroke="#1a1311" stroke-width="1.3"/>
<text x="420.6" y="303.2" font-size="4.9" font-weight="bold" fill="#111" text-anchor="end">0.5</text>
<line x1="421.8" y1="277.4" x2="425.4" y2="277.4" stroke="#1a1311" stroke-width="1.3"/>
<text x="420.6" y="279.2" font-size="4.9" font-weight="bold" fill="#111" text-anchor="end">1.0</text>
<line x1="421.8" y1="253.4" x2="425.4" y2="253.4" stroke="#1a1311" stroke-width="1.3"/>
<text x="420.6" y="255.2" font-size="4.9" font-weight="bold" fill="#111" text-anchor="end">1.5</text>
<line x1="421.8" y1="229.4" x2="425.4" y2="229.4" stroke="#1a1311" stroke-width="1.3"/>
<text x="420.6" y="231.2" font-size="4.9" font-weight="bold" fill="#111" text-anchor="end">2.0</text>
<line x1="453.3" y1="325.5" x2="453.3" y2="329.6" stroke="#1a1311" stroke-width="1.3"/>
<line x1="494.4" y1="325.5" x2="494.4" y2="329.6" stroke="#1a1311" stroke-width="1.3"/>
<text x="453.7" y="335.8" font-size="5.5" font-weight="bold" fill="#111" text-anchor="middle">Wild-type</text>
<text x="494.4" y="335.8" font-size="5.5" font-weight="bold" fill="#111" text-anchor="middle">Mutant</text>
<line x1="453.6" y1="237.2" x2="493.8" y2="237.2" stroke="#2a2220" stroke-width="1.4"/>
<text x="473.5" y="233.5" font-size="8.4" font-weight="bold" fill="#8a8a8a" text-anchor="middle">*</text>
</g>
<g>
<text transform="translate(9.6,433.3) rotate(-90)" font-size="6.45" fill="#333" text-anchor="middle">Relative expression</text>
<text x="75.8" y="368.6" font-size="7.9" fill="#222" text-anchor="middle">Fgf2</text>
<rect x="46.1" y="440.5" width="27.2" height="38.7" fill="#231815"/>
<rect x="87.2" y="405.9" width="27.2" height="73.3" fill="#e6191d"/>
<path d="M100.8 405.9 V397.5 M94.6 397.5 H107.0" fill="none" stroke="#e6191d" stroke-width="0.9"/>
<path d="M31.4 381.9 V479.2 H128.6" fill="none" stroke="#1a1311" stroke-width="1.4" stroke-linejoin="miter"/>
<line x1="27.8" y1="479.2" x2="31.4" y2="479.2" stroke="#1a1311" stroke-width="1.3"/>
<text x="26.6" y="480.9" font-size="4.9" font-weight="bold" fill="#111" text-anchor="end">0.0</text>
<line x1="27.8" y1="459.9" x2="31.4" y2="459.9" stroke="#1a1311" stroke-width="1.3"/>
<text x="26.6" y="461.6" font-size="4.9" font-weight="bold" fill="#111" text-anchor="end">0.5</text>
<line x1="27.8" y1="440.5" x2="31.4" y2="440.5" stroke="#1a1311" stroke-width="1.3"/>
<text x="26.6" y="442.3" font-size="4.9" font-weight="bold" fill="#111" text-anchor="end">1.0</text>
<line x1="27.8" y1="421.2" x2="31.4" y2="421.2" stroke="#1a1311" stroke-width="1.3"/>
<text x="26.6" y="422.9" font-size="4.9" font-weight="bold" fill="#111" text-anchor="end">1.5</text>
<line x1="27.8" y1="401.8" x2="31.4" y2="401.8" stroke="#1a1311" stroke-width="1.3"/>
<text x="26.6" y="403.6" font-size="4.9" font-weight="bold" fill="#111" text-anchor="end">2.0</text>
<line x1="27.8" y1="382.5" x2="31.4" y2="382.5" stroke="#1a1311" stroke-width="1.3"/>
<text x="26.6" y="384.2" font-size="4.9" font-weight="bold" fill="#111" text-anchor="end">2.5</text>
<line x1="59.7" y1="479.2" x2="59.7" y2="483.3" stroke="#1a1311" stroke-width="1.3"/>
<line x1="100.8" y1="479.2" x2="100.8" y2="483.3" stroke="#1a1311" stroke-width="1.3"/>
<text x="60.1" y="489.2" font-size="5.5" font-weight="bold" fill="#111" text-anchor="middle">Wild-type</text>
<text x="100.8" y="489.2" font-size="5.5" font-weight="bold" fill="#111" text-anchor="middle">Mutant</text>
<line x1="59.3" y1="386.3" x2="100.5" y2="386.3" stroke="#2a2220" stroke-width="1.4"/>
<text x="80.4" y="382.6" font-size="8.4" font-weight="bold" fill="#8a8a8a" text-anchor="middle">*</text>
</g>
<g>
<text transform="translate(141.8,433.3) rotate(-90)" font-size="6.45" fill="#333" text-anchor="middle">Relative expression</text>
<text x="209.4" y="368.7" font-size="7.9" fill="#222" text-anchor="middle">Edn2</text>
<rect x="176.7" y="476.6" width="27.2" height="3.7" fill="#231815"/>
<rect x="217.8" y="410.2" width="27.2" height="70.1" fill="#e6191d"/>
<path d="M231.4 410.2 V401.6 M225.2 401.6 H237.6" fill="none" stroke="#e6191d" stroke-width="0.9"/>
<path d="M162.0 383.2 V480.3 H259.2" fill="none" stroke="#1a1311" stroke-width="1.4" stroke-linejoin="miter"/>
<line x1="158.4" y1="480.3" x2="162.0" y2="480.3" stroke="#1a1311" stroke-width="1.3"/>
<text x="157.2" y="482.1" font-size="4.9" font-weight="bold" fill="#111" text-anchor="end">0</text>
<line x1="158.4" y1="461.0" x2="162.0" y2="461.0" stroke="#1a1311" stroke-width="1.3"/>
<text x="157.2" y="462.8" font-size="4.9" font-weight="bold" fill="#111" text-anchor="end">5</text>
<line x1="158.4" y1="441.7" x2="162.0" y2="441.7" stroke="#1a1311" stroke-width="1.3"/>
<text x="157.2" y="443.4" font-size="4.9" font-weight="bold" fill="#111" text-anchor="end">10</text>
<line x1="158.4" y1="422.4" x2="162.0" y2="422.4" stroke="#1a1311" stroke-width="1.3"/>
<text x="157.2" y="424.2" font-size="4.9" font-weight="bold" fill="#111" text-anchor="end">15</text>
<line x1="158.4" y1="403.1" x2="162.0" y2="403.1" stroke="#1a1311" stroke-width="1.3"/>
<text x="157.2" y="404.9" font-size="4.9" font-weight="bold" fill="#111" text-anchor="end">20</text>
<line x1="158.4" y1="383.8" x2="162.0" y2="383.8" stroke="#1a1311" stroke-width="1.3"/>
<text x="157.2" y="385.6" font-size="4.9" font-weight="bold" fill="#111" text-anchor="end">25</text>
<line x1="190.3" y1="480.3" x2="190.3" y2="484.4" stroke="#1a1311" stroke-width="1.3"/>
<line x1="231.4" y1="480.3" x2="231.4" y2="484.4" stroke="#1a1311" stroke-width="1.3"/>
<text x="190.7" y="490.7" font-size="5.5" font-weight="bold" fill="#111" text-anchor="middle">Wild-type</text>
<text x="231.4" y="490.7" font-size="5.5" font-weight="bold" fill="#111" text-anchor="middle">Mutant</text>
<line x1="190.0" y1="390.4" x2="231.3" y2="390.4" stroke="#2a2220" stroke-width="1.4"/>
<text x="204.7" y="386.6" font-size="8.4" font-weight="bold" fill="#8a8a8a" text-anchor="middle">*</text>
<text x="211.2" y="386.6" font-size="8.4" font-weight="bold" fill="#8a8a8a" text-anchor="middle">*</text>
<text x="217.7" y="386.6" font-size="8.4" font-weight="bold" fill="#8a8a8a" text-anchor="middle">*</text>
</g>
<g>
<text transform="translate(276.3,433.0) rotate(-90)" font-size="6.45" fill="#333" text-anchor="middle">Relative expression</text>
<text x="340.7" y="368.6" font-size="7.9" fill="#222" text-anchor="middle">Gfap</text>
<rect x="309.0" y="469.0" width="27.2" height="12.7" fill="#231815"/>
<rect x="350.1" y="410.5" width="27.2" height="71.2" fill="#e6191d"/>
<path d="M363.7 410.5 V399.8 M357.5 399.8 H369.9" fill="none" stroke="#e6191d" stroke-width="0.9"/>
<path d="M294.3 382.2 V481.7 H393.5" fill="none" stroke="#1a1311" stroke-width="1.4" stroke-linejoin="miter"/>
<line x1="290.7" y1="481.7" x2="294.3" y2="481.7" stroke="#1a1311" stroke-width="1.3"/>
<text x="289.5" y="483.4" font-size="4.9" font-weight="bold" fill="#111" text-anchor="end">0</text>
<line x1="290.7" y1="457.0" x2="294.3" y2="457.0" stroke="#1a1311" stroke-width="1.3"/>
<text x="289.5" y="458.7" font-size="4.9" font-weight="bold" fill="#111" text-anchor="end">2</text>
<line x1="290.7" y1="432.2" x2="294.3" y2="432.2" stroke="#1a1311" stroke-width="1.3"/>
<text x="289.5" y="434.0" font-size="4.9" font-weight="bold" fill="#111" text-anchor="end">4</text>
<line x1="290.7" y1="407.5" x2="294.3" y2="407.5" stroke="#1a1311" stroke-width="1.3"/>
<text x="289.5" y="409.3" font-size="4.9" font-weight="bold" fill="#111" text-anchor="end">6</text>
<line x1="290.7" y1="382.8" x2="294.3" y2="382.8" stroke="#1a1311" stroke-width="1.3"/>
<text x="289.5" y="384.6" font-size="4.9" font-weight="bold" fill="#111" text-anchor="end">8</text>
<line x1="322.6" y1="481.7" x2="322.6" y2="485.8" stroke="#1a1311" stroke-width="1.3"/>
<line x1="363.7" y1="481.7" x2="363.7" y2="485.8" stroke="#1a1311" stroke-width="1.3"/>
<text x="323.0" y="490.5" font-size="5.5" font-weight="bold" fill="#111" text-anchor="middle">Wild-type</text>
<text x="363.7" y="490.5" font-size="5.5" font-weight="bold" fill="#111" text-anchor="middle">Mutant</text>
<line x1="322.2" y1="388.1" x2="364.1" y2="388.1" stroke="#2a2220" stroke-width="1.4"/>
<text x="338.7" y="384.4" font-size="8.4" font-weight="bold" fill="#8a8a8a" text-anchor="middle">*</text>
<text x="345.1" y="384.4" font-size="8.4" font-weight="bold" fill="#8a8a8a" text-anchor="middle">*</text>
</g>
<g>
<text transform="translate(402.6,433.3) rotate(-90)" font-size="6.45" fill="#333" text-anchor="middle">Relative expression</text>
<text x="471.9" y="368.6" font-size="7.9" fill="#222" text-anchor="middle">Tyr</text>
<rect x="438.5" y="434.7" width="27.2" height="47.4" fill="#231815"/>
<rect x="479.6" y="407.9" width="27.2" height="74.2" fill="#e6191d"/>
<path d="M493.2 407.9 V399.8 M487.0 399.8 H499.4" fill="none" stroke="#e6191d" stroke-width="0.9"/>
<path d="M424.4 386.2 V482.1 H521.8" fill="none" stroke="#1a1311" stroke-width="1.4" stroke-linejoin="miter"/>
<line x1="420.8" y1="482.1" x2="424.4" y2="482.1" stroke="#1a1311" stroke-width="1.3"/>
<text x="419.6" y="483.9" font-size="4.9" font-weight="bold" fill="#111" text-anchor="end">0.0</text>
<line x1="420.8" y1="458.3" x2="424.4" y2="458.3" stroke="#1a1311" stroke-width="1.3"/>
<text x="419.6" y="460.0" font-size="4.9" font-weight="bold" fill="#111" text-anchor="end">0.5</text>
<line x1="420.8" y1="434.5" x2="424.4" y2="434.5" stroke="#1a1311" stroke-width="1.3"/>
<text x="419.6" y="436.2" font-size="4.9" font-weight="bold" fill="#111" text-anchor="end">1.0</text>
<line x1="420.8" y1="410.6" x2="424.4" y2="410.6" stroke="#1a1311" stroke-width="1.3"/>
<text x="419.6" y="412.4" font-size="4.9" font-weight="bold" fill="#111" text-anchor="end">1.5</text>
<line x1="420.8" y1="386.8" x2="424.4" y2="386.8" stroke="#1a1311" stroke-width="1.3"/>
<text x="419.6" y="388.6" font-size="4.9" font-weight="bold" fill="#111" text-anchor="end">2.0</text>
<line x1="452.1" y1="482.1" x2="452.1" y2="486.2" stroke="#1a1311" stroke-width="1.3"/>
<line x1="493.2" y1="482.1" x2="493.2" y2="486.2" stroke="#1a1311" stroke-width="1.3"/>
<text x="452.5" y="491.7" font-size="5.5" font-weight="bold" fill="#111" text-anchor="middle">Wild-type</text>
<text x="493.2" y="491.7" font-size="5.5" font-weight="bold" fill="#111" text-anchor="middle">Mutant</text>
<line x1="452.3" y1="388.3" x2="492.5" y2="388.3" stroke="#2a2220" stroke-width="1.4"/>
<text x="472.7" y="384.4" font-size="8.4" font-weight="bold" fill="#8a8a8a" text-anchor="middle">*</text>
</g>
</g>
</svg></body></html>
